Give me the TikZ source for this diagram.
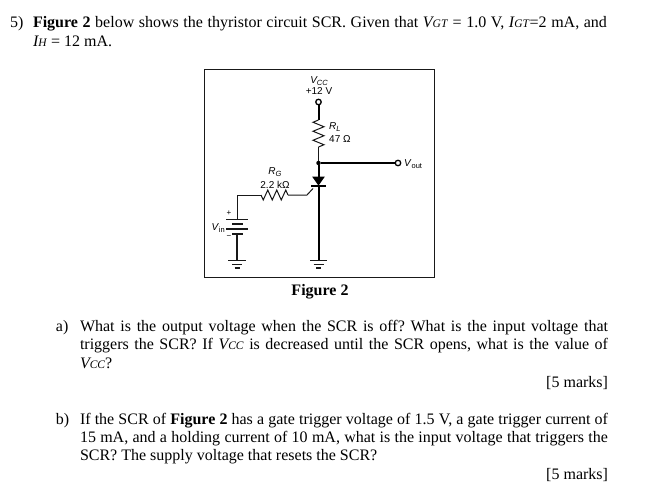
\documentclass[tikz,border=0pt]{standalone}
\usepackage{fontspec}
\setmainfont{Liberation Serif}
\newfontfamily\lblfont{Liberation Sans}
\usetikzlibrary{shapes.geometric}
\frenchspacing
\newcommand{\jl}[2]{\makebox[#1pt][s]{#2}}
\newcommand{\sbi}[2]{\textit{#1{\fontsize{11.5}{13}\selectfont #2}}}
\newcommand{\lsub}[1]{\raisebox{-1.6pt}{\fontsize{7.5}{8}\selectfont #1}}
\tikzset{
  x=1pt,y=-1pt,
  para/.style={anchor=base west,inner sep=0pt,outer sep=0pt,font=\fontsize{16}{18}\selectfont},
  pararight/.style={anchor=base east,inner sep=0pt,outer sep=0pt,font=\fontsize{16}{18}\selectfont},
  lbl/.style={inner sep=0pt,font=\lblfont\fontsize{10}{11}\selectfont},
  wire/.style={line width=1pt,black!90},
  thick wire/.style={line width=2pt,black},
  term/.style={circle,draw=black,line width=1.3pt,fill=white,minimum size=5.5pt,inner sep=0pt},
  dotj/.style={circle,fill=black,minimum size=4.5pt,inner sep=0pt},
  plate/.style={line width=1.1pt,black!90},
}
\begin{document}
\begin{tikzpicture}
\useasboundingbox (0,0) rectangle (662,495);
\fill[white] (0,0) rectangle (662,495);
% text
\node[para] (l1a) at (10,28) {5)};
\node[para] (l1) at (33,28) {\jl{574}{\textbf{Figure 2} below shows the thyristor circuit SCR. Given that \sbi{V}{GT} = 1.0 V, \sbi{I}{GT}=2 mA, and}};
\node[para] (l2) at (33,47) {\sbi{I}{H} = 12 mA.};
\node[anchor=base,inner sep=0pt,font=\fontsize{16}{18}\selectfont\bfseries] (fig) at (320,295) {Figure 2};
\node[para] (qa) at (56,331) {a)};
\node[para] (a1) at (80,331) {\jl{528}{What is the output voltage when the SCR is off? What is the input voltage that}};
\node[para] (a2) at (80,349) {\jl{528}{triggers the SCR? If \sbi{V}{CC} is decreased until the SCR opens, what is the value of}};
\node[para] (a3) at (80,368) {\sbi{V}{CC}?};
\node[pararight] (ma) at (608,387) {[5 marks]};
\node[para] (qb) at (56,424) {b)};
\node[para] (b1) at (80,424) {\jl{528}{If the SCR of \textbf{Figure 2} has a gate trigger voltage of 1.5 V, a gate trigger current of}};
\node[para] (b2) at (80,442) {\jl{528}{15 mA, and a holding current of 10 mA, what is the input voltage that triggers the}};
\node[para] (b3) at (80,460) {SCR? The supply voltage that resets the SCR?};
\node[pararight] (mb) at (608,479) {[5 marks]};
% frame
\draw[line width=1.1pt,black!90] (204.5,69.5) rectangle (434.5,277.5);
% labels
\node[lbl] (vcc) at (319,81) {\textit{V\lsub{CC}}};
\node[lbl] (v12) at (319,91.5) {+12 V};
\node[lbl,anchor=west] (rl) at (329,127) {\textit{R\lsub{L}}};
\node[lbl,anchor=west] (r47) at (329,139) {47 Ω};
\node[lbl,anchor=west] (vout) at (404,164) {\textit{V}\lsub{out}};
\node[lbl] (rg) at (275,172) {\textit{R\lsub{G}}};
\node[lbl] (r22) at (275,184.5) {2.2 kΩ};
\node[lbl,anchor=east] (vin) at (225,228) {\textit{V}\lsub{in}};
\node[lbl,font=\lblfont\fontsize{8}{9}\selectfont] (plus) at (229,213) {+};
\node[lbl,font=\lblfont\fontsize{8}{9}\selectfont] (minus) at (229,237) {−};
% terminals and junctions
\node[term] (tvcc) at (318.5,102) {};
\node[term] (tout) at (398,163) {};
\node[dotj] (jn) at (318.5,163) {};
\coordinate (rlt) at (318.5,120);
\coordinate (rlb) at (318.5,147);
\coordinate (ak) at (318.5,186);
\coordinate (an) at (318.5,177);
\coordinate (gnd2) at (318.5,260.5);
\coordinate (gate) at (313,188.5);
\coordinate (gk) at (307,195);
\coordinate (rgr) at (288,195);
\coordinate (rgl) at (261,195);
\coordinate (corner) at (237,195);
\coordinate (batt) at (237,219.5);
\coordinate (battb) at (237,234);
\coordinate (gnd1) at (237,260.5);
% wires
\draw[thick wire] (tvcc) -- (rlt);
\draw[wire] (rlt) -- ++(-5.5,2.25) -- ++(11,4.5) -- ++(-11,4.5) -- ++(11,4.5) -- ++(-11,4.5) -- ++(11,4.5) -- (rlb);
\draw[wire,line width=1.2pt] (rlb) -- (jn);
\draw[thick wire] (jn) -- (tout);
\draw[thick wire] (jn) -- (an);
\node[isosceles triangle,isosceles triangle apex angle=70,shape border rotate=-90,fill=black,minimum height=9pt,minimum width=12pt,inner sep=0pt,anchor=apex] (scr) at (ak) {};
\draw[line width=1.2pt] (311,186) -- (326,186);
\draw[thick wire] (ak) -- (gnd2);
\draw[wire] (gate) -- (gk) -- (rgr);
\draw[wire] (rgr) -- ++(-2.25,-5) -- ++(-4.5,10) -- ++(-4.5,-10) -- ++(-4.5,10) -- ++(-4.5,-10) -- ++(-4.5,10) -- (rgl);
\draw[wire] (rgl) -- (corner) -- (batt);
\draw[plate] (226,219.5) -- (248,219.5);
\draw[plate] (232,224) -- (243,224);
\draw[plate] (226,229) -- (248,229);
\draw[plate] (232,234) -- (243,234);
\draw[wire,line width=1.3pt] (battb) -- (gnd1);
% grounds
\draw[plate] (228,260.5) -- (246,260.5);
\draw[plate] (232,264.5) -- (242,264.5);
\draw[plate] (234.5,268) -- (239.5,268);
\draw[plate] (310,260.5) -- (327,260.5);
\draw[plate] (313.5,264.5) -- (323.5,264.5);
\draw[plate] (316,268) -- (321,268);
\end{tikzpicture}
\end{document}
